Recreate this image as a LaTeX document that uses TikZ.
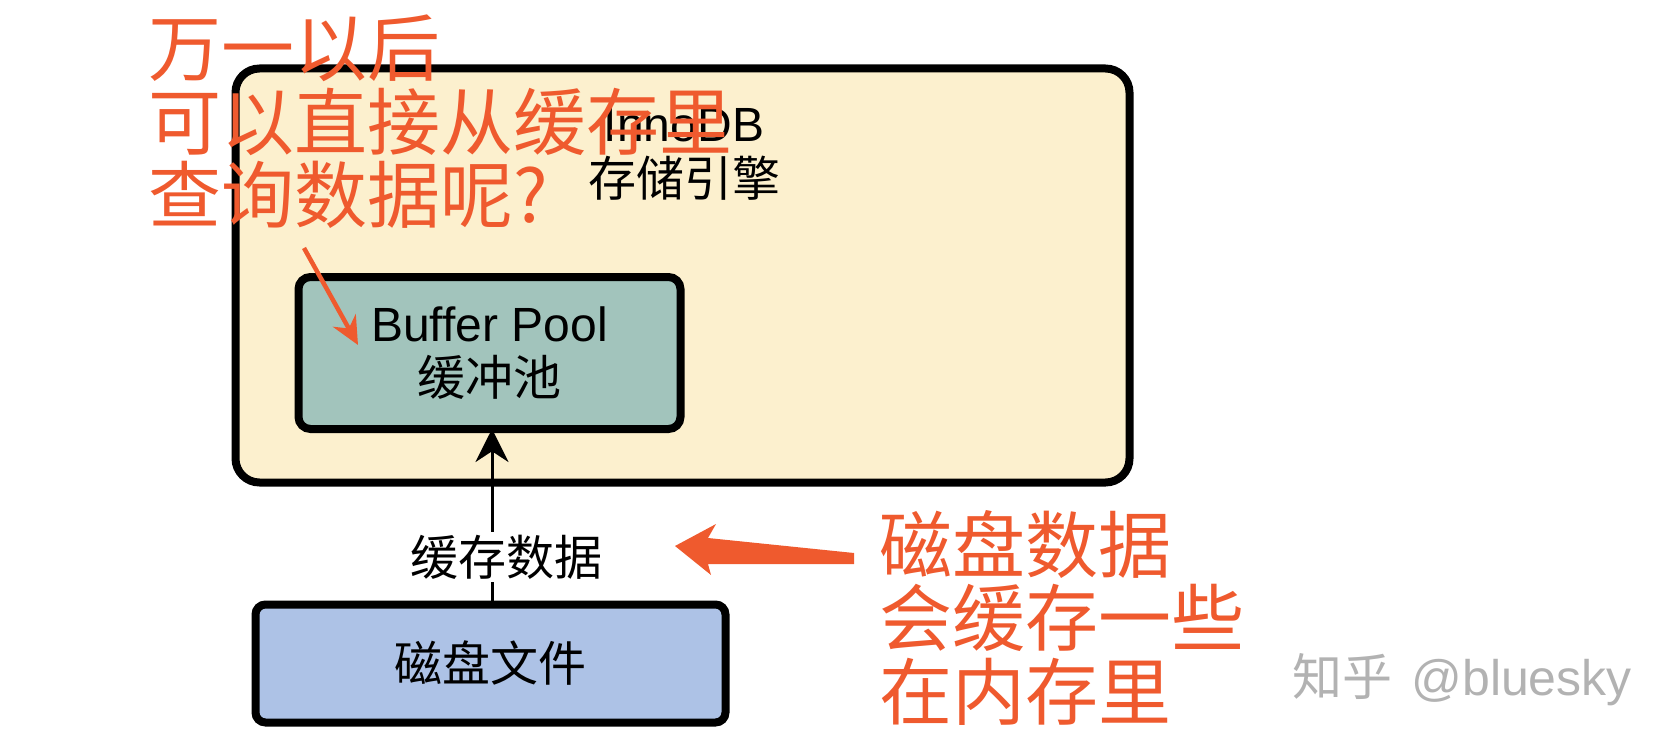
\documentclass[tikz,border=0pt]{standalone}
\usepackage{fontspec}
\setmainfont{Liberation Sans}
\newfontfamily\cjk{Noto Sans CJK SC}
\usetikzlibrary{arrows.meta,positioning}

\definecolor{creamfill}{HTML}{FCF0CE}
\definecolor{tealfill}{HTML}{A2C4BC}
\definecolor{bluefill}{HTML}{ADC2E6}
\definecolor{remark}{HTML}{EF5A2E}

\begin{document}
\begin{tikzpicture}[x=1pt,y=-1pt,
    every node/.style={inner sep=0pt,outer sep=0pt},
    box/.style={draw=black,line width=8pt,align=center,font=\fontsize{48}{54}\selectfont},
    remarktext/.style={text=remark,align=left,anchor=north west,font=\cjk\fontsize{73}{73.5}\selectfont}]

\useasboundingbox (0,0) rectangle (1674,752);

% Boxes
\node[  box,
        fill=creamfill,
        rounded corners=24pt,
        minimum width=894pt,
        minimum height=414pt
    ] (engine) at (682.5,275.5) {};
\node[  align=center,
        font=\fontsize{48}{55}\selectfont
    ] (engineLabel) at (684,154) {InnoDB\\{\cjk 存储引擎}};
\node[  box,
        fill=tealfill,
        rounded corners=12pt,
        minimum width=382pt,
        minimum height=152pt
    ] (buffer) at (489.5,353) {Buffer Pool\\{\cjk 缓冲池}};
\node[  box,
        fill=bluefill,
        rounded corners=10pt,
        minimum width=470pt,
        minimum height=118pt
    ] (disk) at (490.5,663.5) {\cjk 磁盘文件};
% Arrows
\draw[line width=3pt,-{Stealth[length=33pt,width=33pt]}] ([xshift=1.5pt]disk.north) -- ([xshift=2.5pt]buffer.south);
\node[  fill=white,
        font=\cjk\fontsize{48}{54}\selectfont,
        inner xsep=2pt,
        inner ysep=3pt
    ] (cacheLabel) at (506,557) {缓存数据};

% Remarks
\node[remarktext] (askText) at (148,15) {万一以后\\可以直接从缓存里\\查询数据呢?};
\node[remarktext] (diskText) at (879,510) {磁盘数据\\会缓存一些\\在内存里};
\coordinate (askStart) at (304,248);
\coordinate (askEnd) at (358,345);
\draw[remark,line width=4.5pt,-{Stealth[length=28pt,width=26pt]}] (askStart) -- (askEnd);
\coordinate (fatTip) at (675,546);
\coordinate (fatUpper) at (716,524);
\coordinate (fatNotchUpper) at (708,538);
\coordinate (fatTailUpper) at (854,553);
\coordinate (fatTailLower) at (854,564);
\coordinate (fatNotchLower) at (708,564);
\coordinate (fatLower) at (711,575);
\fill[remark] (fatTip) -- (fatUpper) -- (fatNotchUpper) -- (fatTailUpper)
    -- (fatTailLower) -- (fatNotchLower) -- (fatLower) -- cycle;

% Watermark
\node[  text=black!30,
        font=\cjk\fontsize{50}{52}\selectfont
    ] (mark) at (1462,680) {知乎\hspace{8pt} {\fontspec{Liberation Sans}@bluesky}};

\end{tikzpicture}
\end{document}
